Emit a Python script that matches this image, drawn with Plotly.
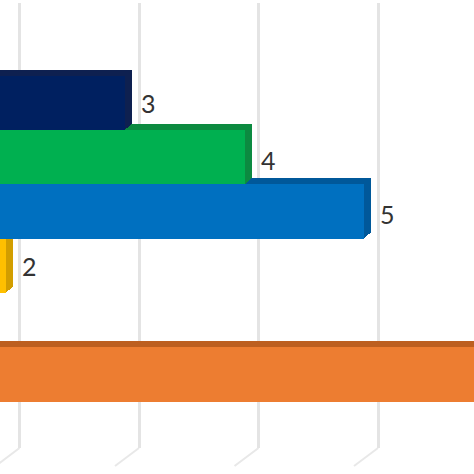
import plotly.graph_objects as go

# Values (the orange bar runs off the right edge, so 9 is a guess)
categories = ["A", "B", "C", "D", "E", "F"]
values = [3, 4, 5, 2, None, 9]
front_colors = ["#002060", "#00B050", "#0070C0", "#FFC000", "#FFFFFF", "#ED7D31"]
depth_colors = ["#0E2050", "#0C8A40", "#00589A", "#D29E00", "#FFFFFF", "#BD5F20"]
grid_ticks = [2, 3, 4, 5]
label_yshift = [0, -3, -2, 0, 0, 0]

W = 474
H = 474
PX_PER_UNIT = 119.5
GRID_3_PX = 139      # where gridline 3 sits
BAR_3_PX = 125       # where the front of a value-3 bar ends
ROW_0_PX = 103       # centre of first row
ROW_PX = 54.3
TOP_PX = 3           # gridlines start here
FLOOR_PX = 448       # and turn onto the floor here
DEPTH = 7


def x_range(p3):
    left = 3 - p3 / PX_PER_UNIT
    return [left, left + W / PX_PER_UNIT]


def y_range(c0):
    # overlaying axes share the base domain, so rows are measured inside it
    return [(FLOOR_PX - c0) / ROW_PX, (TOP_PX - c0) / ROW_PX]


fig = go.Figure()

# Base axes only carry the gridlines
fig.add_trace(go.Scatter(x=[], y=[], xaxis="x", yaxis="y", showlegend=False))
fig.update_layout(
    xaxis=dict(range=x_range(GRID_3_PX), tickvals=grid_ticks, showgrid=True, gridcolor="#E4E4E4",
               gridwidth=2.5, showticklabels=False, zeroline=False, showline=False, ticks=""),
    yaxis=dict(range=[0, 1], domain=[1 - FLOOR_PX / H, 1 - TOP_PX / H], visible=False),
)

# 3D look: same bars drawn back to front on axes nudged a pixel at a time
for n, d in enumerate(range(DEPTH, -1, -1), start=2):
    fig.add_trace(go.Bar(
        y=categories, x=values, orientation="h", width=1, showlegend=False,
        marker=dict(color=depth_colors if d > 0 else front_colors, line=dict(width=0)),
        xaxis=f"x{n}", yaxis=f"y{n}",
    ))
    fig.layout[f"xaxis{n}"] = dict(range=x_range(BAR_3_PX + d), overlaying="x", visible=False)
    fig.layout[f"yaxis{n}"] = dict(range=y_range(ROW_0_PX - d * 6 / DEPTH), overlaying="y", visible=False,
                                   type="category", categoryorder="array", categoryarray=categories)
front = DEPTH + 2

# Value labels
for cat, val, shift in zip(categories, values, label_yshift):
    if val is not None and val < 6:
        fig.add_annotation(x=val, y=cat, xref=f"x{front}", yref=f"y{front}", text=str(val), showarrow=False,
                           xanchor="left", xshift=14, yshift=shift,
                           font=dict(family="Lato", size=25, color="#333333"))

# Floor part of the gridlines
for t in grid_ticks:
    fig.add_shape(type="line", xref="x", yref="paper", xsizemode="pixel", ysizemode="pixel",
                  xanchor=t, yanchor=1 - FLOOR_PX / H, x0=0, x1=-24, y0=0, y1=-18,
                  line=dict(color="#E8E8E8", width=2), layer="below")

fig.update_layout(width=W, height=H, margin=dict(l=0, r=0, t=0, b=0), bargap=0,
                  paper_bgcolor="white", plot_bgcolor="white", showlegend=False)
# page has a default body margin that would push the chart off by 8px
fig.write_html("out.html", config={"displayModeBar": False},
               post_script="document.body.style.margin='0';")
